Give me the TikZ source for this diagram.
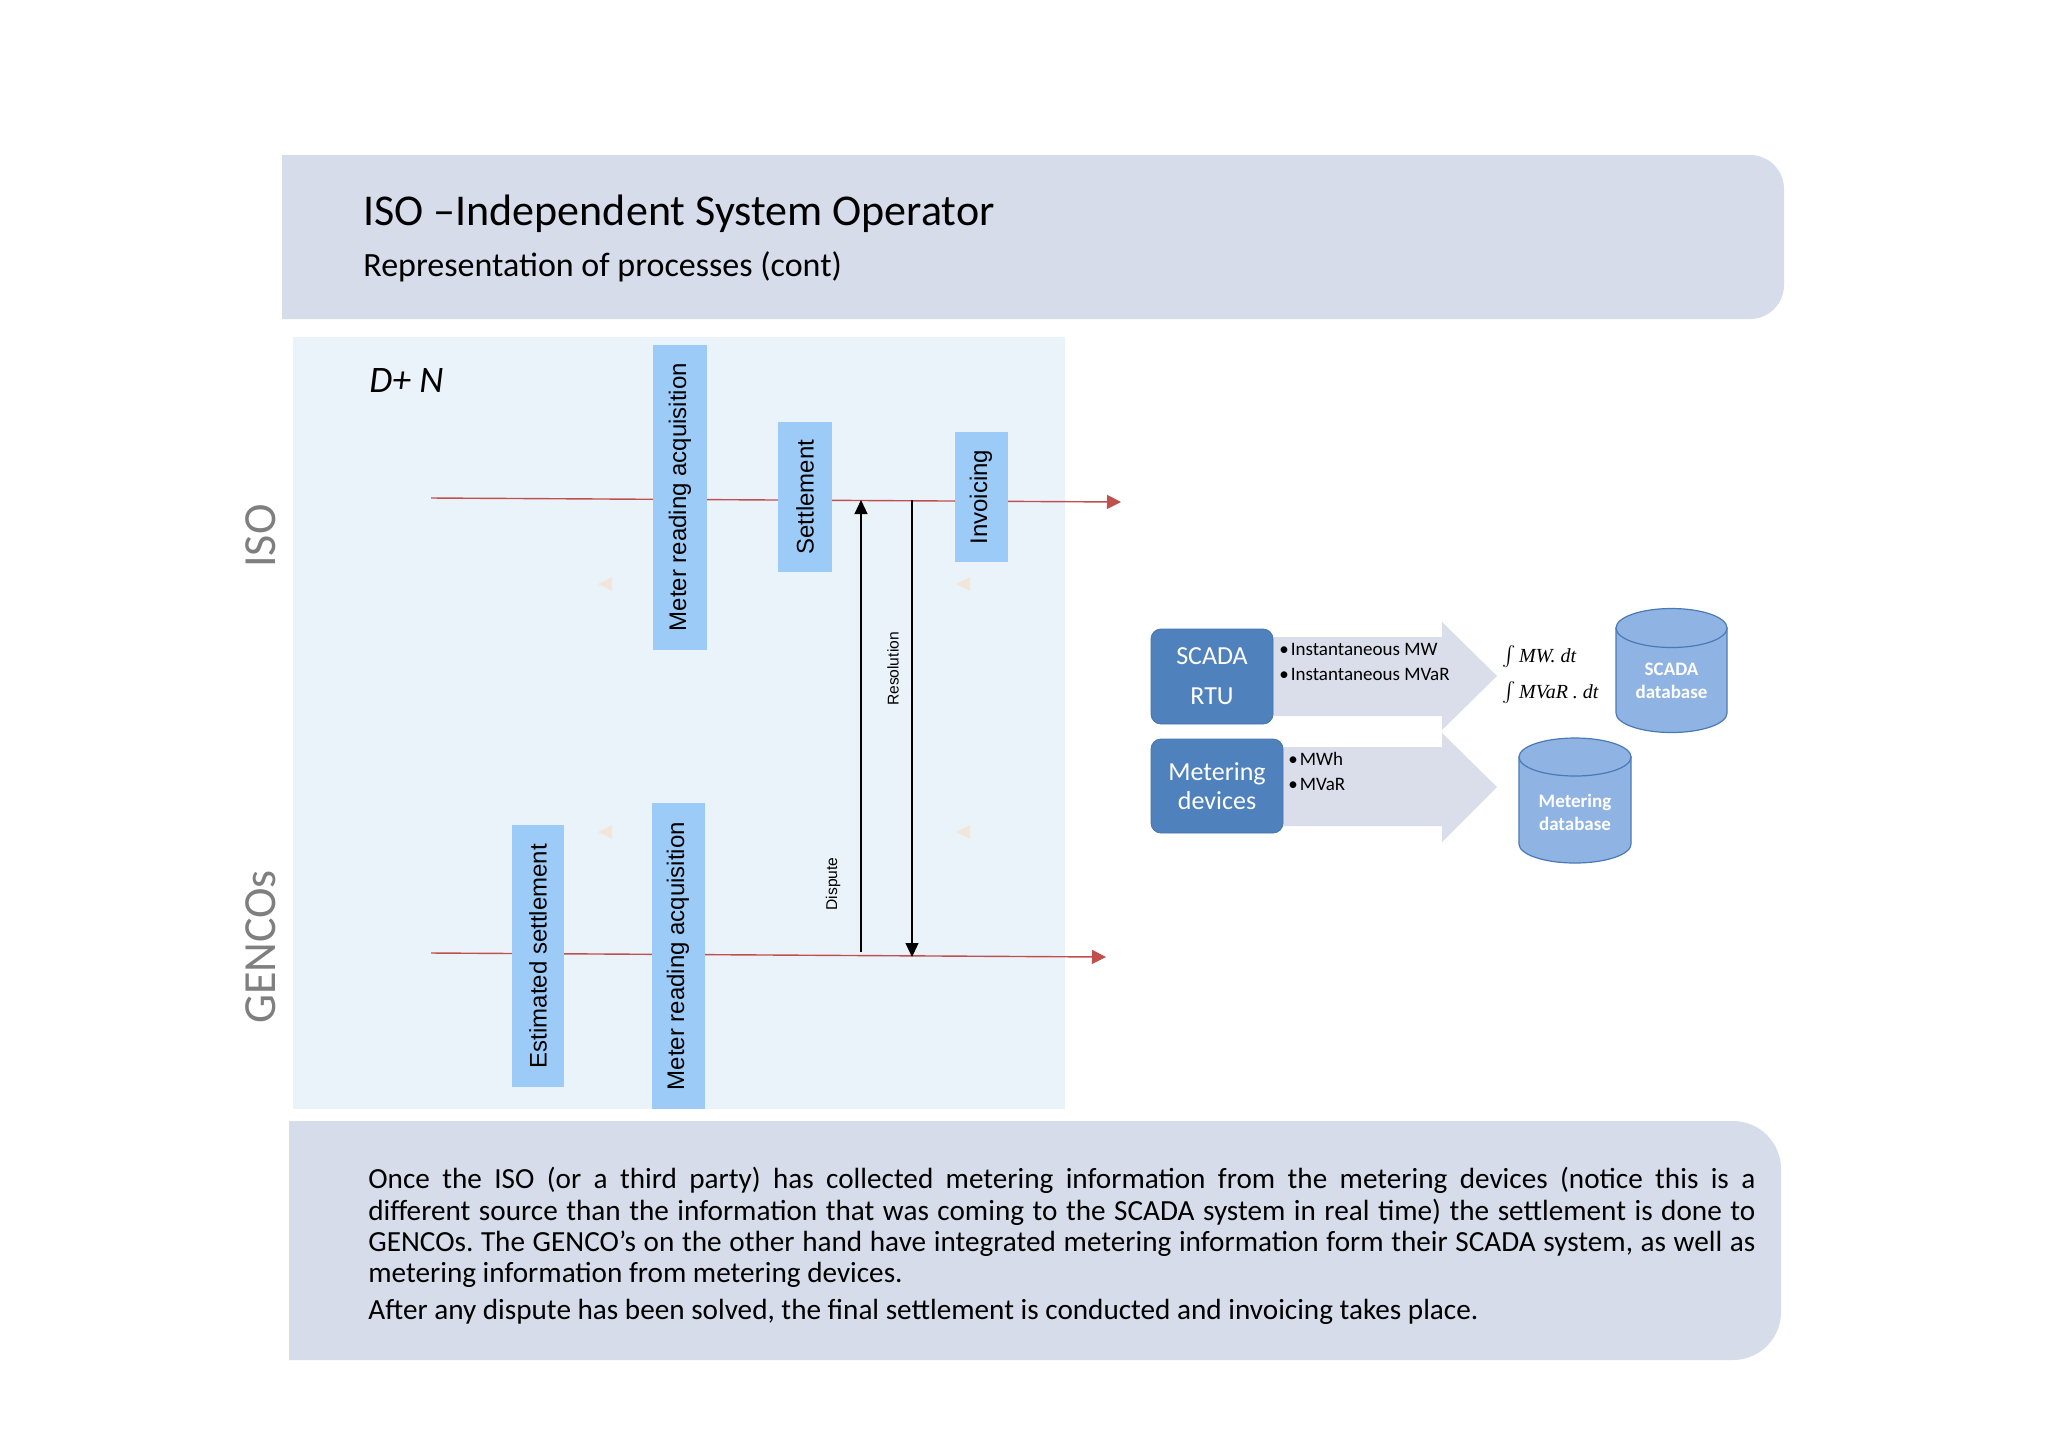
\documentclass[tikz,border=0pt]{standalone}
\usepackage{fontspec}
\setmainfont{Carlito}
\newfontfamily\arialf{Liberation Sans}
\newfontfamily\timesf{Liberation Serif}
\usetikzlibrary{arrows.meta}
\definecolor{hdr}{HTML}{D6DCE9}
\definecolor{panel}{HTML}{EBF3FA}
\definecolor{proc}{HTML}{9DCBF8}
\definecolor{lane}{HTML}{C0504D}
\definecolor{acc}{HTML}{4F81BD}
\definecolor{blk}{HTML}{D9DEEA}
\definecolor{cyl}{HTML}{8FB4E3}
\definecolor{cylb}{HTML}{4A7AB5}
\definecolor{ghost}{HTML}{F1E6D8}
\definecolor{lbl}{HTML}{7F7F7F}
\frenchspacing
\begin{document}
\begin{tikzpicture}[x=0.5pt,y=-0.5pt,
  procbox/.style={fill=proc, inner sep=0, rotate=90, font=\arialf\fontsize{12}{14}\selectfont},
  laneline/.style={draw=lane, line width=0.7pt, -{Triangle[length=7pt,width=7pt]}},
  blkarrow/.style={draw=black, line width=0.6pt, -{Triangle[length=7pt,width=6.5pt]}},
  smalllbl/.style={rotate=90, inner sep=0, font=\arialf\fontsize{7.8}{9}\selectfont},
  sidelbl/.style={rotate=90, inner sep=0, text=lbl, font=\fontsize{23}{27}\selectfont},
  devbox/.style={rounded corners=5pt, fill=acc, draw=acc!90!black, line width=0.4pt, text=white, align=center, inner sep=0},
  bullettxt/.style={anchor=base west, inner sep=0, font=\fontsize{9.5}{11}\selectfont},
  inttxt/.style={anchor=base west, inner sep=0, font=\timesf\itshape\fontsize{10}{12}\selectfont},
  dbtxt/.style={text=white, align=center, inner sep=0, font=\bfseries\fontsize{9.5}{11.5}\selectfont},
  cylfill/.style={fill=cyl, draw=cylb, line width=0.6pt},
  blockarrow/.style={fill=blk},
  ghostarrow/.style={fill=ghost}
]
\useasboundingbox (0,0) rectangle (2048,1447);
\fill[white] (0,0) rectangle (2048,1447);

% header
\fill[hdr] (282,155) -- (1600,155) [rounded corners=17pt] -- (1784,155) -- (1784,319) -- (1600,319) [sharp corners] -- (282,319) -- cycle;
\node[anchor=base west, inner sep=0, font=\fontsize{22}{26}\selectfont] (title) at (363,225) {ISO –Independent System Operator};
\node[anchor=base west, inner sep=0, font=\fontsize{17}{20}\selectfont] (subtitle) at (363,276) {Representation of processes (cont)};

% panel
\fill[panel] (293,337) rectangle (1065,1109);
\node[anchor=base west, inner sep=0, font=\itshape\fontsize{18.7}{22}\selectfont] (dn) at (369,392) {D+ N};

% side labels
\node[sidelbl] (lblISO) at (261,536) {ISO};
\node[sidelbl] (lblGEN) at (261,947) {GENCOs};

% ghost arrowheads
\fill[ghostarrow] (598,584) -- (612,577) -- (612,591) -- cycle;
\fill[ghostarrow] (956,584) -- (970,577) -- (970,591) -- cycle;
\fill[ghostarrow] (598,832) -- (612,825) -- (612,839) -- cycle;
\fill[ghostarrow] (956,832) -- (970,825) -- (970,839) -- cycle;

% lanes
\coordinate (isoS) at (431,498);
\coordinate (isoE) at (1121,502);
\coordinate (genS) at (431,953);
\coordinate (genE) at (1106,957);
\draw[laneline] (isoS) -- (isoE);
\draw[laneline] (genS) -- (genE);

% process boxes
\node[procbox, minimum width=152.5pt, minimum height=27pt] (mra1) at (680,497) {Meter reading acquisition};
\node[procbox, minimum width=75pt, minimum height=27pt] (set) at (805,497) {Settlement};
\node[procbox, minimum width=65pt, minimum height=26.5pt] (inv) at (981,497) {Invoicing};
\node[procbox, minimum width=131pt, minimum height=26pt] (est) at (538,956) {Estimated settlement};
\node[procbox, minimum width=153pt, minimum height=26.5pt] (mra2) at (678,956) {Meter reading acquisition};

% dispute / resolution
\coordinate (dB) at (861,952);
\coordinate (dT) at (861,500);
\coordinate (rT) at (912,500);
\coordinate (rB) at (912,957);
\draw[blkarrow] (dB) -- (dT);
\draw[blkarrow] (rT) -- (rB);
\node[smalllbl] (res) at (893,669) {Resolution};
\node[smalllbl] (dis) at (833,884) {Dispute};

% right part: block arrows
\fill[blockarrow] (1273,637) -- (1442,637) -- (1442,622) -- (1497,676) -- (1442,730) -- (1442,716) -- (1273,716) -- cycle;
\fill[blockarrow] (1283,747) -- (1442,747) -- (1442,733) -- (1497,787) -- (1442,842) -- (1442,826) -- (1283,826) -- cycle;

\node[devbox, minimum width=61pt, minimum height=47.5pt, font=\fontsize{13}{20}\selectfont] (rtu) at (1212,676.5) {SCADA\\RTU};
\node[devbox, minimum width=66pt, minimum height=47pt, font=\fontsize{13}{14.5}\selectfont] (met) at (1217,786) {Metering\\devices};

\node[bullettxt] (b1) at (1279,655) {•\hspace{1pt}Instantaneous MW};
\node[bullettxt] (b2) at (1279,680) {•\hspace{1pt}Instantaneous MVaR};
\node[bullettxt] (b3) at (1288,765) {•\hspace{1pt}MWh};
\node[bullettxt] (b4) at (1288,790) {•\hspace{1pt}MVaR};

\node[inttxt] (int1) at (1502,662) {{\fontsize{11}{12}\selectfont$\int$}\,MW. dt};
\node[inttxt] (int2) at (1502,698) {{\fontsize{11}{12}\selectfont$\int$}\,MVaR . dt};

% SCADA database cylinder
\path[cylfill] (1616,628) -- (1616,713) arc[start angle=180, end angle=0, x radius=55.5, y radius=19.5] -- (1727,628) -- cycle;
\path[cylfill] (1671.5,628) ellipse [x radius=55.5, y radius=19.5];
\node[dbtxt] (sdb) at (1671.5,681) {SCADA\\database};

% Metering database cylinder
\path[cylfill] (1519,757) -- (1519,844) arc[start angle=180, end angle=0, x radius=56, y radius=19] -- (1631,757) -- cycle;
\path[cylfill] (1575,757) ellipse [x radius=56, y radius=19];
\node[dbtxt] (mdb) at (1575,812) {Metering\\database};

% bottom box
\fill[hdr] (289,1121) -- (1600,1121) [rounded corners=24pt] -- (1781,1121) -- (1781,1360) -- (1600,1360) [sharp corners] -- (289,1360) -- cycle;
\node[anchor=north west, inner sep=0, text width=693.5pt, align=justify, font=\fontsize{14.6}{15.7}\selectfont] (para) at (368,1167) {\setlength{\parskip}{2.5pt}\setlength{\parindent}{0pt}\hyphenpenalty=10000\frenchspacing
Once the ISO (or a third party) has collected metering information from the metering devices (notice this is a\linebreak different source than the information that was coming to the SCADA system in real time) the settlement is done to\linebreak GENCOs. The GENCO’s on the other hand have integrated metering information form their SCADA system, as well as\linebreak metering information from metering devices.\par
After any dispute has been solved, the final settlement is conducted and invoicing takes place.};
\end{tikzpicture}
\end{document}
